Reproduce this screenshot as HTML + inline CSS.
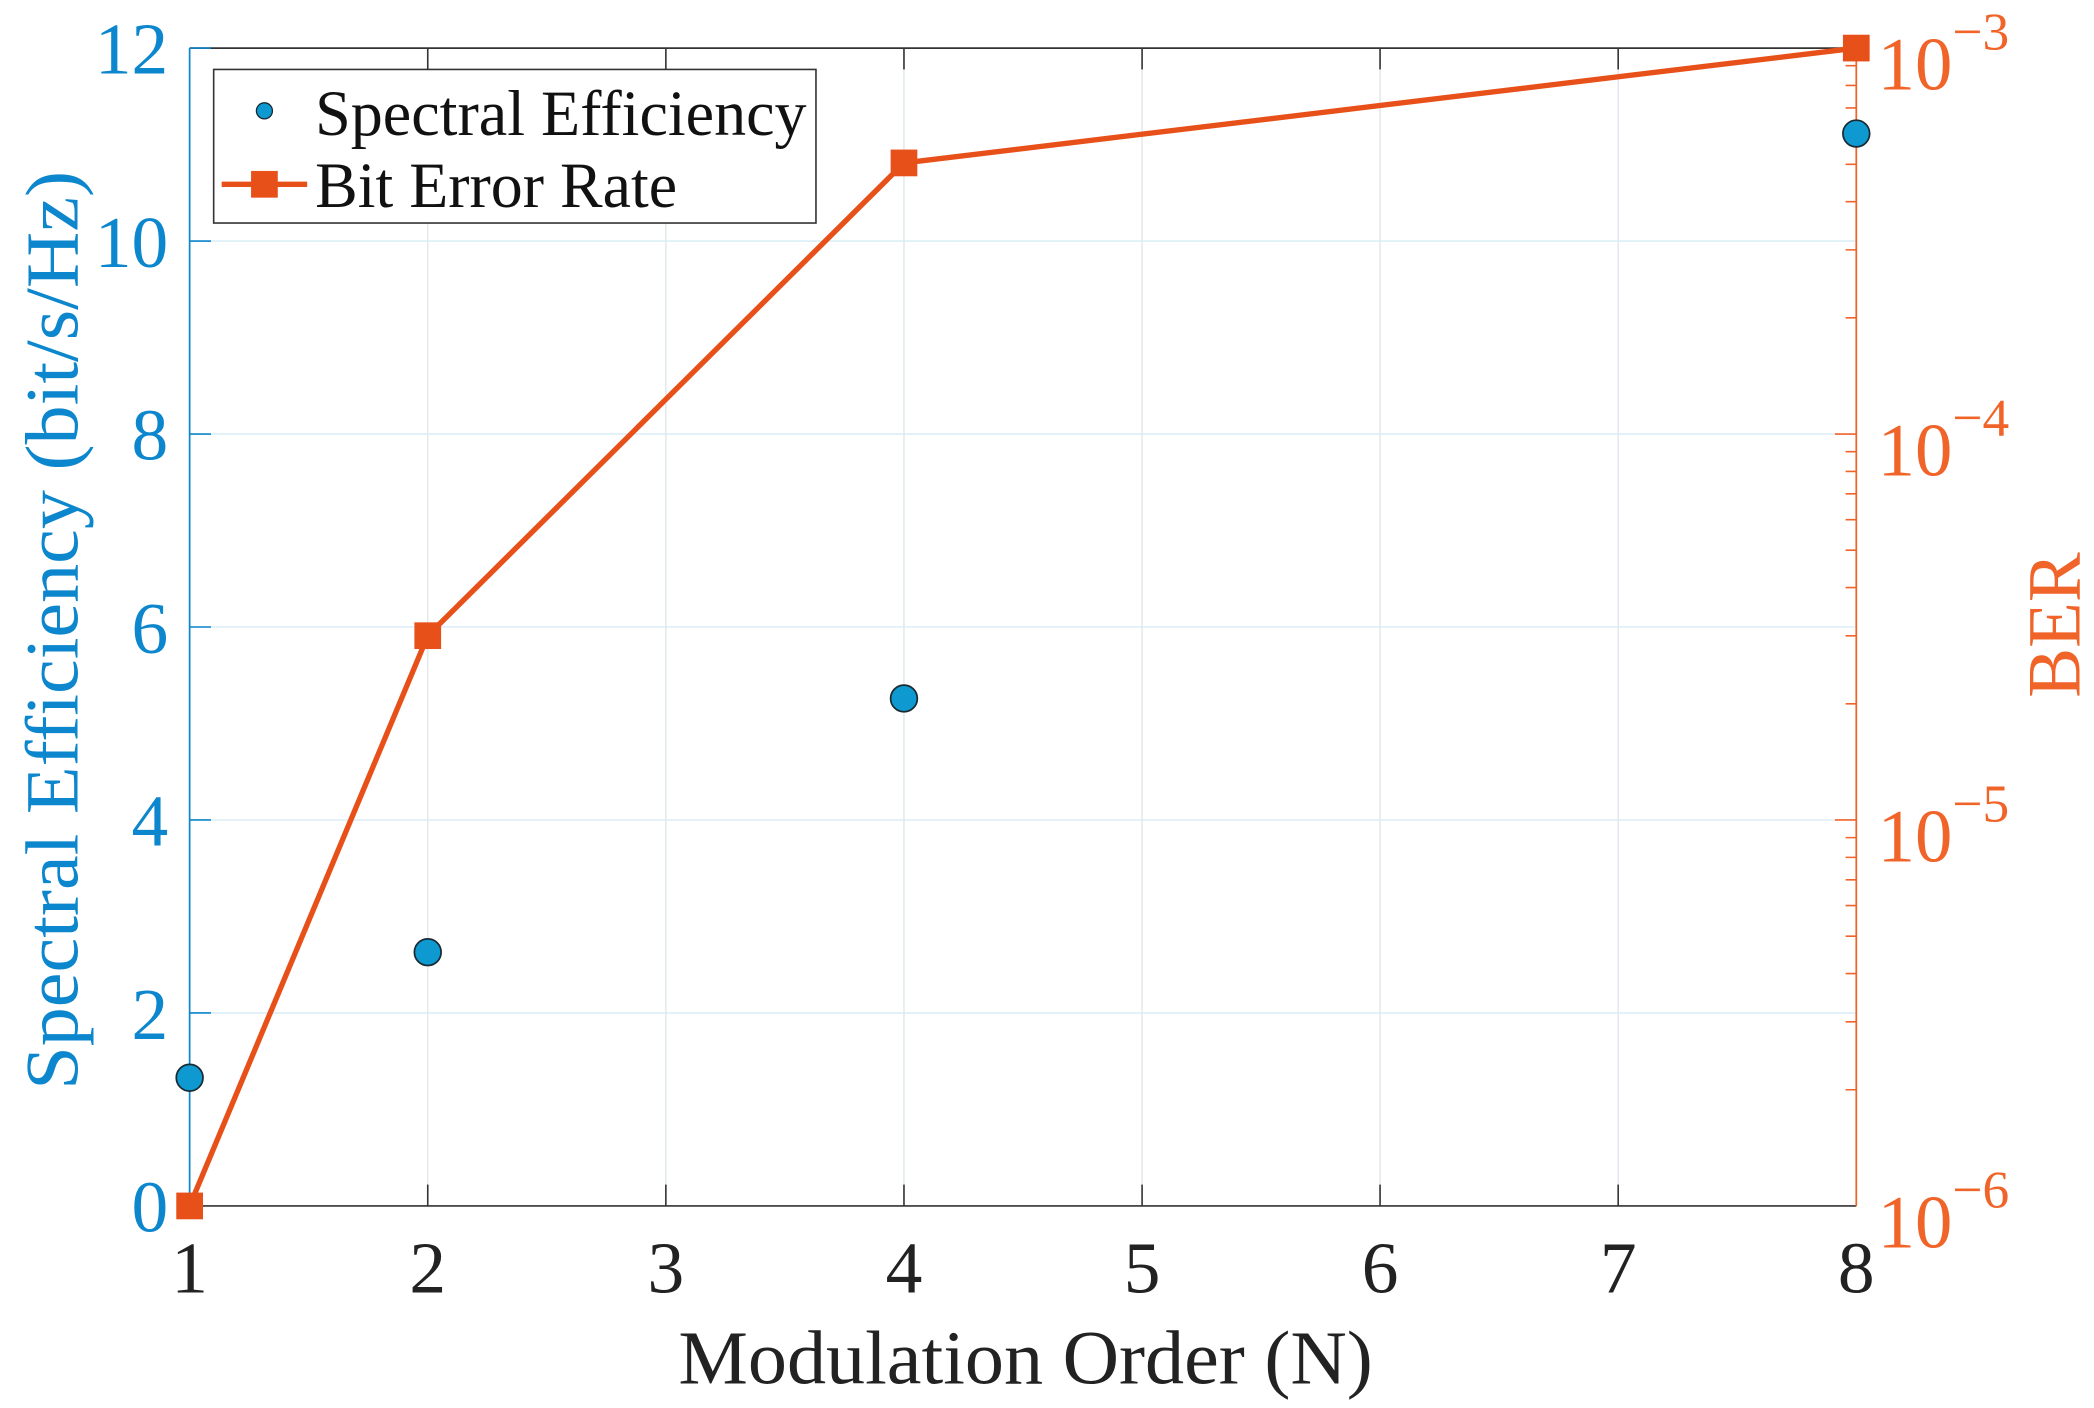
<!DOCTYPE html>
<html><head><meta charset="utf-8"><style>html,body{margin:0;padding:0;background:#fff}svg{display:block}</style></head>
<body>
<svg width="2094" height="1408" viewBox="0 0 1568 1054.3" preserveAspectRatio="none" xmlns="http://www.w3.org/2000/svg" font-family="'Liberation Serif', serif">
<rect width="1568" height="1055" fill="#fff"/>
<g stroke="#dfe6ea" stroke-width="1">
<line x1="320.3" y1="36" x2="320.3" y2="903"/><line x1="498.6" y1="36" x2="498.6" y2="903"/>
<line x1="676.9" y1="36" x2="676.9" y2="903"/><line x1="855.2" y1="36" x2="855.2" y2="903"/>
<line x1="1033.4" y1="36" x2="1033.4" y2="903"/><line x1="1211.7" y1="36" x2="1211.7" y2="903"/>
</g>
<g stroke="#d6ebf5" stroke-width="1">
<line x1="142" y1="758.5" x2="1390" y2="758.5"/><line x1="142" y1="614" x2="1390" y2="614"/>
<line x1="142" y1="469.5" x2="1390" y2="469.5"/><line x1="142" y1="325" x2="1390" y2="325"/>
<line x1="142" y1="180.5" x2="1390" y2="180.5"/>
</g>
<line x1="142" y1="36" x2="1390" y2="36" stroke="#333" stroke-width="1.3"/>
<line x1="142" y1="903" x2="1390" y2="903" stroke="#333" stroke-width="1.3"/>
<line x1="142" y1="36" x2="142" y2="903" stroke="#0C86CC" stroke-width="1.3"/>
<line x1="1390" y1="36" x2="1390" y2="903" stroke="#F0642A" stroke-width="1.3"/>
<g stroke="#333" stroke-width="1.2">
<line x1="320.3" y1="903" x2="320.3" y2="887"/><line x1="498.6" y1="903" x2="498.6" y2="887"/>
<line x1="676.9" y1="903" x2="676.9" y2="887"/><line x1="855.2" y1="903" x2="855.2" y2="887"/>
<line x1="1033.4" y1="903" x2="1033.4" y2="887"/><line x1="1211.7" y1="903" x2="1211.7" y2="887"/>
<line x1="320.3" y1="36" x2="320.3" y2="52"/><line x1="498.6" y1="36" x2="498.6" y2="52"/>
<line x1="676.9" y1="36" x2="676.9" y2="52"/><line x1="855.2" y1="36" x2="855.2" y2="52"/>
<line x1="1033.4" y1="36" x2="1033.4" y2="52"/><line x1="1211.7" y1="36" x2="1211.7" y2="52"/>
</g>
<g stroke="#0C86CC" stroke-width="1.2">
<line x1="142" y1="758.5" x2="158" y2="758.5"/><line x1="142" y1="614" x2="158" y2="614"/>
<line x1="142" y1="469.5" x2="158" y2="469.5"/><line x1="142" y1="325" x2="158" y2="325"/>
<line x1="142" y1="180.5" x2="158" y2="180.5"/><line x1="142" y1="36" x2="158" y2="36"/>
</g>
<g stroke="#F0642A" stroke-width="1.2">
<line x1="1390" y1="614" x2="1374" y2="614"/><line x1="1390" y1="325" x2="1374" y2="325"/>
<path d="M1390 816h-8M1390 765.1h-8M1390 729h-8M1390 701h-8M1390 678.1h-8M1390 658.8h-8M1390 642h-8M1390 627.2h-8
M1390 527h-8M1390 476.1h-8M1390 440h-8M1390 412h-8M1390 389.1h-8M1390 369.8h-8M1390 353h-8M1390 338.2h-8
M1390 238h-8M1390 187.1h-8M1390 151h-8M1390 123h-8M1390 100.1h-8M1390 80.8h-8M1390 64h-8M1390 49.2h-8"/>
</g>
<polyline points="142,903 320.3,476 676.9,122 1390,36" fill="none" stroke="#E8501A" stroke-width="4"/>
<g fill="#E8501A">
<rect x="132" y="893" width="20" height="20"/><rect x="310.3" y="466" width="20" height="20"/>
<rect x="666.9" y="112" width="20" height="20"/><rect x="1380" y="26" width="20" height="20"/>
</g>
<g fill="#0E9AD0" stroke="#1a2a33" stroke-width="1.3">
<circle cx="142" cy="807" r="10"/><circle cx="320.3" cy="713" r="10"/>
<circle cx="676.9" cy="523" r="10"/><circle cx="1390" cy="100" r="10"/>
</g>
<rect x="160" y="52" width="451" height="115" fill="#fff" stroke="#333" stroke-width="1.2"/>
<circle cx="198" cy="83" r="6" fill="#0E9AD0" stroke="#1a2a33" stroke-width="1"/>
<line x1="166" y1="138" x2="230" y2="138" stroke="#E8501A" stroke-width="4"/>
<rect x="188" y="128" width="20" height="20" fill="#E8501A"/>
<text x="236" y="101" font-size="48" fill="#111" textLength="368" lengthAdjust="spacingAndGlyphs">Spectral Efficiency</text>
<text x="236" y="155" font-size="48" fill="#111" textLength="271" lengthAdjust="spacingAndGlyphs">Bit Error Rate</text>
<g font-size="55" fill="#0C86CC" text-anchor="end">
<text x="126" y="922">0</text><text x="126" y="778">2</text><text x="126" y="633">4</text>
<text x="126" y="489">6</text><text x="126" y="344">8</text><text x="126" y="200">10</text><text x="126" y="55">12</text>
</g>
<g font-size="55" fill="#222" text-anchor="middle">
<text x="142" y="968">1</text><text x="320.3" y="968">2</text><text x="498.6" y="968">3</text>
<text x="676.9" y="968">4</text><text x="855.2" y="968">5</text><text x="1033.4" y="968">6</text>
<text x="1211.7" y="968">7</text><text x="1390" y="968">8</text>
</g>
<g font-size="56" fill="#F0642A">
<text x="1406" y="934">10<tspan font-size="40" dy="-30">−6</tspan></text>
<text x="1406" y="645">10<tspan font-size="40" dy="-30">−5</tspan></text>
<text x="1406" y="356">10<tspan font-size="40" dy="-30">−4</tspan></text>
<text x="1406" y="67">10<tspan font-size="40" dy="-30">−3</tspan></text>
</g>
<text x="768" y="1036" font-size="57" fill="#222" text-anchor="middle" textLength="520" lengthAdjust="spacingAndGlyphs">Modulation Order (N)</text>
<text transform="translate(58,472) rotate(-90)" font-size="56" fill="#0C86CC" text-anchor="middle" textLength="688" lengthAdjust="spacingAndGlyphs">Spectral Efficiency (bit/s/Hz)</text>
<text transform="translate(1557,468) rotate(-90)" font-size="56" fill="#F0642A" text-anchor="middle">BER</text>
</svg>
</body></html>
